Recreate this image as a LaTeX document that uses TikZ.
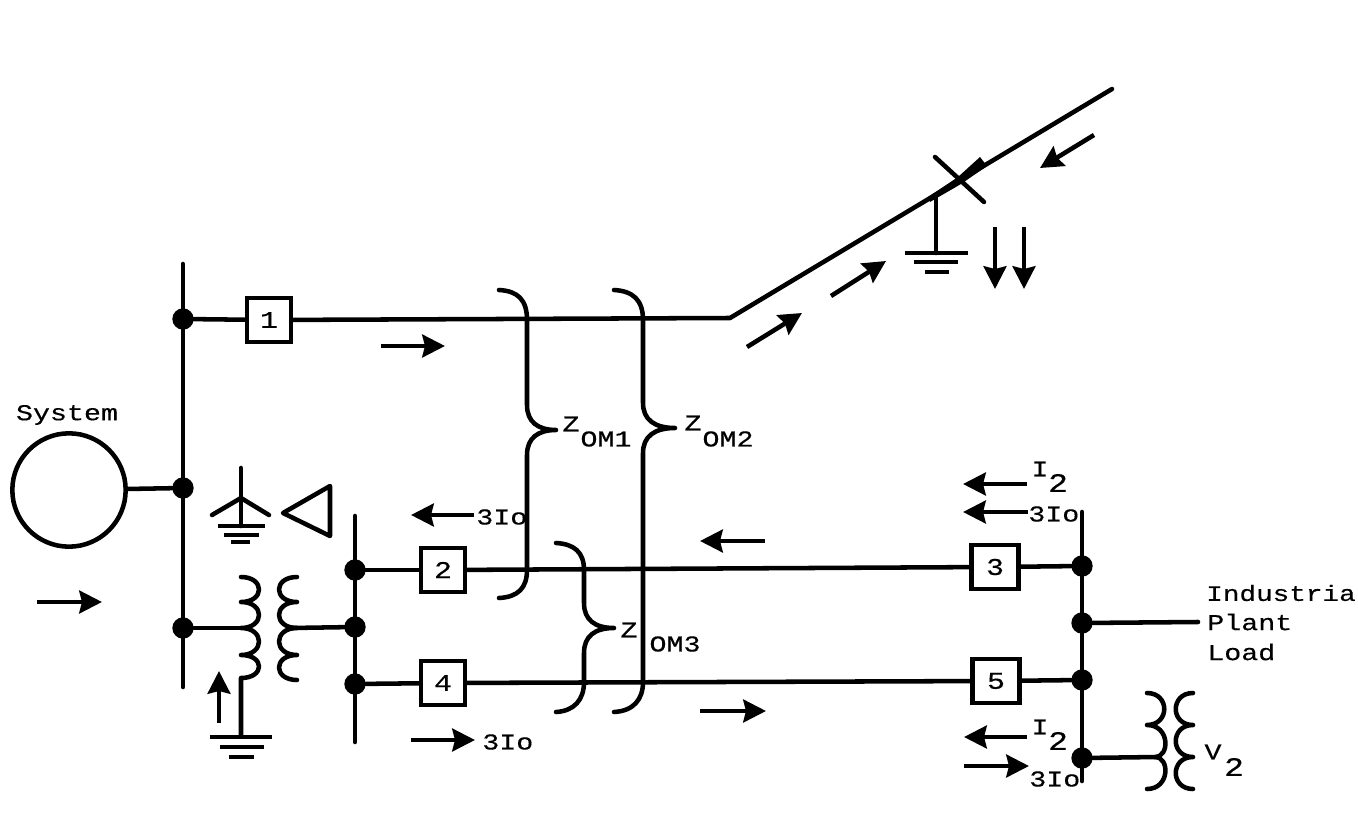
\documentclass[tikz,border=0pt]{standalone}
\usepackage{fontspec}
\newfontfamily\tw[FakeStretch=1.25,FakeBold=0.4]{Liberation Mono}
\usetikzlibrary{arrows.meta}
\tikzset{
  wire/.style={line width=3.4pt,line cap=round,line join=round},
  flow/.style={line width=3.4pt,-{Stealth[length=17pt,width=17pt,inset=2pt]}},
  junction/.style={circle,fill=black,inner sep=0pt,minimum size=16pt},
  breaker/.style={draw,line width=3.6pt,fill=white,inner sep=0pt,minimum size=33pt,font=\tw\fontsize{18}{18}\selectfont},
  lbl/.style={inner sep=0pt,font=\tw\fontsize{17}{17}\selectfont},
  sub/.style={inner sep=0pt,font=\tw\fontsize{20}{20}\selectfont},
  gnd/.style={line width=3.4pt}
}
\begin{document}
\begin{tikzpicture}[x=0.75pt,y=-0.75pt]
\useasboundingbox (0,0) rectangle (1358,816);
% junctions
\node[junction] (a1) at (183,319) {};
\node[junction] (a2) at (183,488) {};
\node[junction] (a3) at (183,628) {};
\node[junction] (b1) at (355,570) {};
\node[junction] (b2) at (355,627) {};
\node[junction] (b3) at (355,684) {};
\node[junction] (c1) at (1082,566) {};
\node[junction] (c2) at (1082,623) {};
\node[junction] (c3) at (1082,680) {};
\node[junction] (c4) at (1082,758) {};
% bus ends
\coordinate (atop) at (183,264); \coordinate (abot) at (183,687);
\coordinate (btop) at (355,516); \coordinate (bbot) at (355,742);
\coordinate (ctop) at (1082,512); \coordinate (cbot) at (1082,781);
\draw[wire] (atop) -- (abot);
\draw[wire] (btop) -- (bbot);
\draw[wire] (ctop) -- (cbot);
% source
\node[circle,draw,line width=3.4pt,minimum size=85pt,inner sep=0pt] (sys) at (69,490) {};
\draw[wire] (sys) -- (a2);
% breakers
\node[breaker] (k1) at (269,320) {1};
\node[breaker] (k2) at (443,570) {2};
\node[breaker] (k4) at (443,683) {4};
\node[breaker,minimum width=35pt] (k3) at (995,567) {3};
\node[breaker,minimum width=35pt] (k5) at (996,681) {5};
% lines
\coordinate (bend) at (730,318);
\coordinate (far) at (1112,89);
\coordinate (fault) at (960,180);
\draw[wire] (a1) -- (k1);
\draw[wire] (k1) -- (bend) -- (far);
\draw[wire] (b1) -- (k2);
\draw[wire] (k2) -- (k3);
\draw[wire] (k3) -- (c1);
\draw[wire] (b3) -- (k4);
\draw[wire] (k4) -- (k5);
\draw[wire] (k5) -- (c3);
% fault
\coordinate (x1) at (935,157); \coordinate (x2) at (984,202);
\draw[wire] (x1) -- (x2);
\fill (980,157) -- (987,166) -- (961,184) -- (930,202) -- (928,197) -- (958,177) -- cycle;
\coordinate (tee) at (936,198); \coordinate (g1) at (936,253);
\draw[wire] (tee) -- (g1);
\draw[gnd] (905,253) -- (968,253) (914,262) -- (958,262) (925,272) -- (949,272);
% load
\coordinate (loadend) at (1198,622);
\draw[wire] (c2) -- (loadend);
\node[lbl,anchor=west,font=\tw\fontsize{16.6}{16.6}\selectfont] (t1) at (1206,593) {Industria};
\node[lbl,anchor=west] (t2) at (1207,622) {Plant};
\node[lbl,anchor=west] (t3) at (1207,652) {Load};
% wye ground
\draw[wire] (241,468) -- (241,526);
\draw[wire] (212,515) -- (241,498) -- (269,515);
\draw[gnd] (218,526) -- (265,526) (224,535) -- (259,535) (231,542) -- (250,542);
% delta
\draw[wire,miter limit=10] (330,486) -- (283,513) -- (330,536) -- cycle;
% main transformer
\coordinate (pc) at (241,628);
\draw[wire] (a3) -- (pc);
\draw[wire] (241,577) .. controls (265,577) and (265,602) .. (241,602)
  .. controls (265,602) and (265,628) .. (241,628)
  .. controls (265,628) and (265,655) .. (241,655)
  .. controls (265,655) and (265,678) .. (241,678) -- (241,735);
\coordinate (sc) at (290,628);
\draw[wire] (b2) -- (sc);
\draw[wire] (297,577) .. controls (273,577) and (273,602) .. (297,602)
  .. controls (273,602) and (273,628) .. (297,628)
  .. controls (273,628) and (273,655) .. (297,655)
  .. controls (273,655) and (273,680) .. (297,680);
\draw[gnd] (210,737) -- (272,737) (220,747) -- (264,747) (229,757) -- (254,757);
% CT
\coordinate (vt) at (1157,757);
\draw[wire] (c4) -- (vt);
\draw[wire] (1147,693) .. controls (1170,693) and (1170,725) .. (1147,725)
  .. controls (1170,725) and (1170,757) .. (1155,757)
  .. controls (1170,757) and (1170,789) .. (1147,789);
\draw[wire] (1193,693) .. controls (1170,693) and (1170,725) .. (1193,725)
  .. controls (1170,725) and (1170,757) .. (1193,757)
  .. controls (1170,757) and (1170,789) .. (1193,789);
\node[lbl] (v) at (1213,752) {V};
\node[sub] (v2) at (1234,767) {2};
% braces
\draw[wire] (499,290) .. controls (518,291) and (527,300) .. (527,320) -- (527,405)
  .. controls (527,422) and (538,430) .. (556,430)
  .. controls (538,430) and (527,438) .. (527,455) -- (527,570)
  .. controls (527,588) and (518,597) .. (499,598);
\draw[wire] (614,290) .. controls (633,291) and (643,300) .. (643,320) -- (643,403)
  .. controls (643,420) and (655,428) .. (675,428)
  .. controls (655,428) and (643,436) .. (643,453) -- (643,682)
  .. controls (643,700) and (633,711) .. (614,712);
\draw[wire] (556,543) .. controls (574,544) and (584,552) .. (584,570) -- (584,603)
  .. controls (584,620) and (595,628) .. (614,628)
  .. controls (595,628) and (584,636) .. (584,653) -- (584,682)
  .. controls (584,700) and (574,711) .. (556,712);
\node[lbl] (zm1) at (571,424) {Z};
\node[lbl] (om1) at (606,439) {OM1};
\node[lbl] (zm2) at (693,423) {Z};
\node[lbl] (om2) at (728,439) {OM2};
\node[lbl] (zm3) at (629,630) {Z};
\node[lbl] (om3) at (675,644) {OM3};
% flow arrows
\draw[flow] (37,602) -- (102,602);
\draw[flow] (381,346) -- (445,346);
\draw[flow] (219,723) -- (219,671);
\draw[flow] (474,515) -- (411,515);
\draw[flow] (411,740) -- (475,740);
\draw[flow] (765,541) -- (700,541);
\draw[flow] (700,711) -- (766,711);
\draw[flow] (747,347) -- (802,313);
\draw[flow] (831,296) -- (886,261);
\draw[flow] (1094,135) -- (1040,168);
\draw[flow] (995,227) -- (995,289);
\draw[flow] (1024,227) -- (1024,289);
\draw[flow] (1027,484) -- (963,484);
\draw[flow] (1028,512) -- (963,512);
\draw[flow] (1027,737) -- (964,737);
\draw[flow] (964,766) -- (1029,766);
% labels
\node[lbl] (sy) at (67,415) {System};
\node[lbl,anchor=west] (ia) at (476,517) {3Io};
\node[lbl,anchor=west] (ib) at (482,742) {3Io};
\node[lbl,anchor=west] (ic) at (1028,514) {3Io};
\node[lbl,anchor=west] (id) at (1029,779) {3Io};
\node[lbl] (i2a) at (1040,469) {I};
\node[sub] (i2b) at (1058,483) {2};
\node[lbl] (i2c) at (1040,727) {I};
\node[sub] (i2d) at (1058,741) {2};
\end{tikzpicture}
\end{document}
